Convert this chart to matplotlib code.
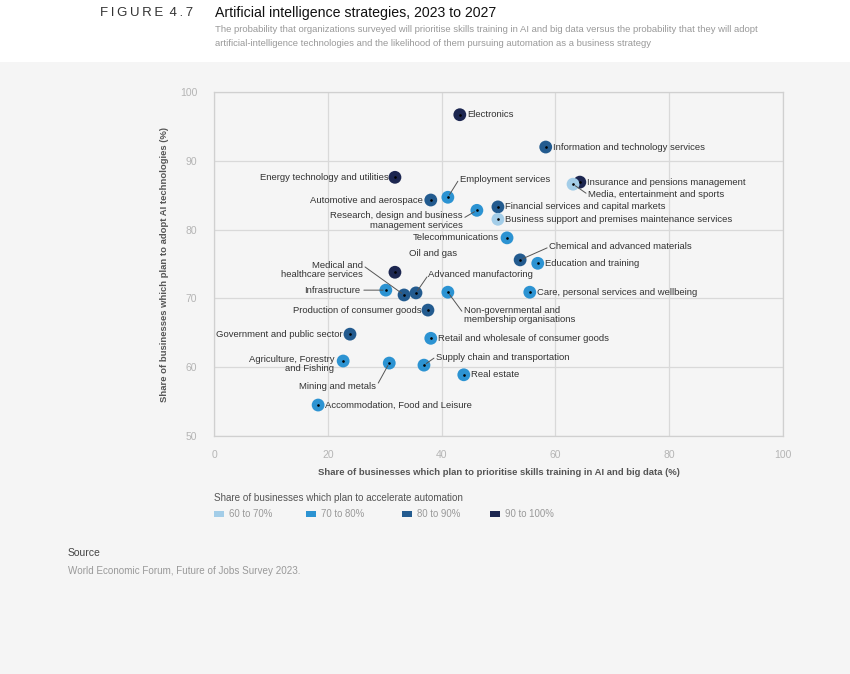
import matplotlib.pyplot as plt
from matplotlib.patches import Rectangle

plt.rcParams['font.family'] = ['Liberation Sans', 'DejaVu Sans']

# dados
setores = [
    'Electronics', 'Information and technology services', 'Energy technology and utilities',
    'Employment services', 'Automotive and aerospace',
    'Research, design and business\nmanagement services',
    'Financial services and capital markets',
    'Business support and premises maintenance services',
    'Insurance and pensions management', 'Media, entertainment and sports',
    'Telecommunications', 'Chemical and advanced materials', 'Education and training',
    'Care, personal services and wellbeing', 'Oil and gas',
    'Medical and\nhealthcare services', 'Infrastructure', 'Advanced manufactoring',
    'Non-governmental and\nmembership organisations', 'Production of consumer goods',
    'Government and public sector', 'Retail and wholesale of consumer goods',
    'Agriculture, Forestry\nand Fishing', 'Mining and metals',
    'Supply chain and transportation', 'Real estate', 'Accommodation, Food and Leisure',
]
treino_ia = [43.2, 58.3, 31.8, 41.1, 38.1, 46.2, 49.9, 49.9, 64.3, 63.1, 51.5, 53.8, 56.9,
             55.5, 31.8, 33.4, 30.2, 35.5, 41.1, 37.6, 23.9, 38.1, 22.7, 30.8, 36.9, 43.9, 18.3]
adocao_ia = [96.7, 92.0, 87.6, 84.7, 84.3, 82.8, 83.3, 81.5, 86.9, 86.6, 78.8, 75.6, 75.1,
             70.9, 73.8, 70.5, 71.2, 70.8, 70.9, 68.3, 64.8, 64.2, 60.9, 60.6, 60.3, 58.9, 54.5]
# faixa de automação: 0=60-70, 1=70-80, 2=80-90, 3=90-100
faixa = [3, 2, 3, 1, 2, 1, 2, 0, 3, 0, 1, 2, 1, 1, 3, 2, 1, 2, 1, 2, 2, 1, 1, 1, 1, 1, 1]
faixas_nomes = ['60 to 70%', '70 to 80%', '80 to 90%', '90 to 100%']

cores = ['#a3cde8', '#2c93d2', '#235b8f', '#1c2650']

# posição dos rótulos: deslocamento do texto (px), alinhamento, fim da linha guia (px)
rotulos = {
    'Employment services': (12, 18, 'left', (10, 16)),
    'Automotive and aerospace': (-8, 0, 'right', None),
    'Research, design and business\nmanagement services': (-14, -10, 'right', (-12, -7)),
    'Energy technology and utilities': (-6, 0, 'right', None),
    'Media, entertainment and sports': (15, -10, 'left', (13, -9)),
    'Telecommunications': (-8, 0, 'right', None),
    'Chemical and advanced materials': (29, 13, 'left', (27, 12)),
    'Oil and gas': (38, 19, 'center', None),
    'Medical and\nhealthcare services': (-41, 25, 'right', (-39, 28)),
    'Infrastructure': (-26, 0, 'right', (-22, 0)),
    'Advanced manufactoring': (12, 18, 'left', (11, 16)),
    'Non-governmental and\nmembership organisations': (16, -23, 'left', (14, -19)),
    'Production of consumer goods': (-6, 0, 'right', None),
    'Government and public sector': (-7, 0, 'right', None),
    'Agriculture, Forestry\nand Fishing': (-9, -3, 'right', None),
    'Mining and metals': (-13, -23, 'right', (-11, -20)),
    'Supply chain and transportation': (12, 8, 'left', (10, 7)),
}

fig = plt.figure(figsize=(8.5, 6.74), dpi=100, facecolor='#f5f5f5')
fig.patches.append(Rectangle((0, 1 - 62 / 674), 1, 62 / 674, transform=fig.transFigure,
                             facecolor='white', edgecolor='none', zorder=0))

ax = fig.add_axes([214 / 850, 1 - 436 / 674, 569 / 850, 344 / 674])
ax.set_facecolor('#f5f5f5')
ax.set_xlim(0, 100)
ax.set_ylim(50, 100)
ax.set_xticks(range(0, 101, 20))
ax.set_yticks(range(50, 101, 10))
ax.grid(True, color='#d9d9d9', linewidth=0.9)
ax.set_axisbelow(True)
for s in ax.spines.values():
    s.set_color('#d0d0d0')
    s.set_linewidth(0.9)
ax.tick_params(axis='both', length=0, colors='#b5b5b5', labelsize=7.5)
ax.tick_params(axis='y', pad=12)
ax.tick_params(axis='x', pad=10)

ax.scatter(treino_ia, adocao_ia, s=85, c=[cores[f] for f in faixa], edgecolors='none', zorder=3)
ax.scatter(treino_ia, adocao_ia, s=0.8, c='black', zorder=4)

for nome, x, y in zip(setores, treino_ia, adocao_ia):
    dx, dy, ha, guia = rotulos.get(nome, (7, 0, 'left', None))
    if guia is not None:
        ax.annotate('', (x, y), xytext=guia, textcoords='offset pixels',
                    arrowprops=dict(arrowstyle='-', color='#555555', lw=0.7, shrinkA=0, shrinkB=2),
                    zorder=5)
    ax.annotate(nome, (x, y), xytext=(dx, dy), textcoords='offset pixels', ha=ha, va='center',
                fontsize=6.8, color='#333333', linespacing=1.05, zorder=5)

ax.set_xlabel('Share of businesses which plan to prioritise skills training in AI and big data (%)',
              fontsize=6.8, fontweight='bold', color='#555555', labelpad=6)
ax.set_ylabel('Share of businesses which plan to adopt AI technologies (%)',
              fontsize=6.8, fontweight='bold', color='#555555', labelpad=8)

# cabeçalho
fig.text(100 / 850, 1 - 13 / 674, 'F\u2009I\u2009G\u2009U\u2009R\u2009E\u2009 4\u2009.\u20097',
         fontsize=9.5, color='#333333', va='center', family=['Liberation Sans', 'DejaVu Sans'])
fig.text(215 / 850, 1 - 13 / 674, 'Artificial intelligence strategies, 2023 to 2027',
         fontsize=10.2, color='#111111', va='center')
fig.text(215 / 850, 1 - 29 / 674,
         'The probability that organizations surveyed will prioritise skills training in AI and big data '
         'versus the probability that they will adopt', fontsize=6.8, color='#999999', va='center')
fig.text(215 / 850, 1 - 44 / 674,
         'artificial-intelligence technologies and the likelihood of them pursuing automation as a business strategy',
         fontsize=6.8, color='#999999', va='center')

# legenda
fig.text(214 / 850, 1 - 498 / 674, 'Share of businesses which plan to accelerate automation',
         fontsize=7.1, color='#555555', va='center')
leg_x = [214, 306, 402, 490]
for px, cor, nome in zip(leg_x, cores, faixas_nomes):
    fig.patches.append(Rectangle((px / 850, 1 - 517 / 674), 10 / 850, 6 / 674,
                                 transform=fig.transFigure, facecolor=cor, edgecolor='none'))
    fig.text((px + 15) / 850, 1 - 514 / 674, nome, fontsize=6.9, color='#999999', va='center')

# fonte
fig.text(68 / 850, 1 - 553 / 674, 'Source', fontsize=7.5, color='#444444', va='center')
fig.text(68 / 850, 1 - 571 / 674, 'World Economic Forum, Future of Jobs Survey 2023.',
         fontsize=7.1, color='#999999', va='center')

fig.savefig('out.png', dpi=100, facecolor=fig.get_facecolor())
